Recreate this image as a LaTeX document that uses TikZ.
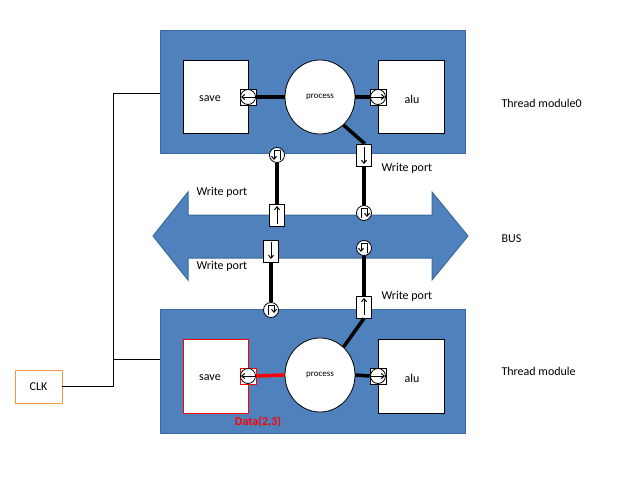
\documentclass[tikz,border=0pt]{standalone}
\usepackage{fontspec}
\setmainfont{Carlito}
\usetikzlibrary{shapes.geometric,arrows.meta}
\definecolor{blu}{HTML}{4F81BD}
\definecolor{bluedge}{HTML}{3A6A9E}
\definecolor{orng}{HTML}{F79646}
\begin{document}
\begin{tikzpicture}[x=1pt,y=-1pt,
  module/.style={draw=bluedge,fill=blu,line width=1pt},
  box/.style={draw=black,fill=white,line width=0.8pt},
  thick line/.style={line width=3.5pt},
  lbl/.style={font=\fontsize{12}{14}\selectfont,anchor=west},
  cir/.style={circle,draw=black,fill=white,line width=0.8pt,minimum size=15pt,inner sep=0pt},
  wp/.style={draw=black,fill=white,line width=0.8pt,minimum width=15pt,minimum height=22pt,inner sep=0pt},
  sq/.style={draw=black,fill=white,line width=0.6pt,minimum size=16pt,inner sep=0pt},
  ar/.style={-{Straight Barb[length=3pt,width=5pt]},line width=1pt}]
\useasboundingbox (0,0) rectangle (638,479);
% modules
\node[module,minimum width=305pt,minimum height=123pt,inner sep=0pt] (m0) at (312.5,91.5) {};
\node[module,minimum width=305pt,minimum height=124pt,inner sep=0pt] (m1) at (312.5,371) {};
% bus
\draw[fill=blu,draw=bluedge,line width=1pt] (153,236) -- (188,192) -- (188,215) -- (432,215) -- (432,192) -- (468,236) -- (432,280) -- (432,258) -- (188,258) -- (188,280) -- cycle;
% top module contents
\node[box,minimum width=65pt,minimum height=73pt] (s0) at (215.5,96.5) {};
\node[font=\fontsize{12}{14}\selectfont] at (210,99) {save};
\node[box,minimum width=66pt,minimum height=73pt] (a0) at (411,96.5) {};
\node[font=\fontsize{12}{14}\selectfont] at (412,99) {alu};
\node[ellipse,draw=black,fill=white,line width=0.8pt,minimum width=70pt,minimum height=74pt,inner sep=0pt,font=\fontsize{9}{10}\selectfont] (p0) at (320,97) {process};
\node[sq] (sp0) at (248,97) {};
\node[sq] (ap0) at (378,97) {};
\draw[thick line] (sp0.east) -- (p0.west);
\draw[thick line] (p0.east) -- (ap0.west);
\node[cir] (sc0) at (248,97) {};
\node[cir] (ac0) at (378,97) {};
\draw[ar] (255,97) -- (241,97);
\draw[ar] (371,97) -- (385,97);
% top ports
\node[cir] (c1) at (277,155) {};
\node[wp] (w1) at (277,215) {};
\node[wp] (w2) at (364,155) {};
\node[cir] (c2) at (364,213) {};
\draw[thick line] (c1.south) -- (w1.north);
\draw[thick line] (w2.south) -- (c2.north);
\draw[thick line] (p0.-50) -- (364,143) -- (w2.north);
\draw[ar] (277,224) -- (277,206);
\draw[ar] (364,147) -- (364,164);
\draw[ar] (280,160) -- (280,150) -- (274,150) -- (274,160);
\draw[ar] (361,218) -- (361,208) -- (367,208) -- (367,217);
% bottom ports
\node[wp] (w3) at (271,251) {};
\node[cir] (c3) at (271,310) {};
\node[cir] (c4) at (364,248) {};
\node[wp] (w4) at (364,307) {};
\draw[thick line] (w3.south) -- (c3.north);
\draw[thick line] (c4.south) -- (w4.north);
\draw[ar] (271,242) -- (271,259);
\draw[ar] (364,315) -- (364,298);
\draw[ar] (268,315) -- (268,305) -- (274,305) -- (274,313);
\draw[ar] (367,253) -- (367,243) -- (361,243) -- (361,252);
% bottom module contents
\node[draw=red,fill=white,line width=0.8pt,minimum width=65pt,minimum height=74pt] (s1) at (215.5,376) {};
\node[font=\fontsize{12}{14}\selectfont] at (210,378) {save};
\node[box,minimum width=66pt,minimum height=74pt] (a1) at (411,376) {};
\node[font=\fontsize{12}{14}\selectfont] at (412,378) {alu};
\node[ellipse,draw=black,fill=white,line width=0.8pt,minimum width=70pt,minimum height=74pt,inner sep=0pt,font=\fontsize{9}{10}\selectfont] (p1) at (320,375) {process};
\draw[thick line] (w4.south) -- (p1.50);
\node[draw=red,fill=white,line width=0.6pt,minimum size=16pt,inner sep=0pt] (sp1) at (248,376) {};
\node[sq] (ap1) at (378,376) {};
\draw[thick line,red] (sp1.east) -- (p1.west);
\draw[thick line] (p1.east) -- (ap1.west);
\node[cir] (sc1) at (248,376) {};
\node[cir] (ac1) at (378,376) {};
\draw[ar] (255,376) -- (241,376);
\draw[ar] (371,376) -- (385,376);
\node[text=red,font=\bfseries\fontsize{12}{14}\selectfont] (dat) at (258,422) {Data(2,3)};
% labels
\node[lbl] (l1) at (378,168) {Write port};
\node[lbl] (l2) at (193,192) {Write port};
\node[lbl] (l3) at (193,266) {Write port};
\node[lbl] (l4) at (378,296) {Write port};
\node[lbl] (t0) at (498,103) {Thread module0};
\node[lbl] (tb) at (498,239) {BUS};
\node[lbl] (t1) at (498,371) {Thread module};
% CLK
\node[draw=orng,line width=0.8pt,minimum width=47pt,minimum height=33pt,font=\fontsize{12}{14}\selectfont] (clk) at (38.5,386.5) {CLK};
\coordinate (j) at (113,386.5);
\draw[line width=0.6pt] (clk.east) -- (j) -- (113,93) -- (m0.west |- 0,93);
\draw[line width=0.6pt] (113,359) -- (m1.west |- 0,359);
\end{tikzpicture}
\end{document}
